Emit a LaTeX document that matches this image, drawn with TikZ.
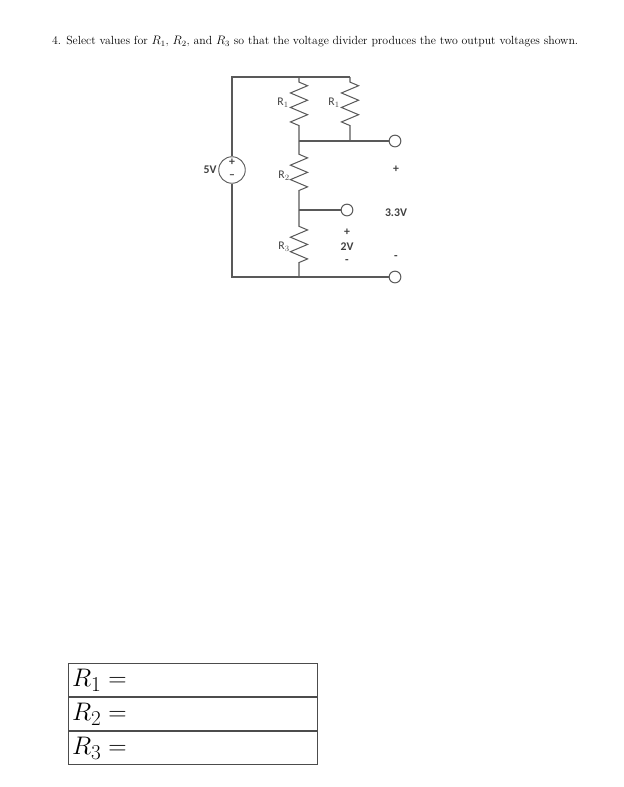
\documentclass[tikz,border=0pt]{standalone}
\usepackage{fontspec}
\newfontfamily\circfont{Carlito}
\usetikzlibrary{decorations.pathmorphing}
\usetikzlibrary{calc}
\DeclareMathSizes{27}{27}{20}{15}

\begin{document}
\begin{tikzpicture}[x=0.98pt,y=-0.98pt,
            wire/.style = {draw=black!65,line width=1pt},
            res/.style = {wire,decorate,decoration={zigzag,segment length=14.2pt,
                amplitude=8.4pt,pre length=5pt,post length=15pt}},
            term/.style = {draw=black!65,line width=1pt,circle,fill=white,
                minimum size=11.5pt,inner sep=0pt},
            lab/.style = {font=\circfont\fontsize{11.5}{13}\selectfont\bfseries,text=black!75,inner sep=0pt},
            rlab/.style = {font=\circfont\fontsize{11.5}{13}\selectfont,text=black!75,inner sep=0pt},
            ansbox/.style = {draw=black!70,line width=0.9pt,minimum width=244pt,minimum height=32pt,
                text width=236pt,inner sep=3pt,font=\fontsize{27}{30}\selectfont}]
            \useasboundingbox (0,0) rectangle (624,787);
            \node[anchor=west,inner sep=0pt,font=\fontsize{11.55}{13}\selectfont] (question) at (52,42)
                {4. Select values for $R_1$, $R_2$, and $R_3$ so that the voltage divider produces the two output voltages shown.};
            \coordinate (tl) at (232,77);
            \coordinate (ta) at (299,77);
            \coordinate (tb) at (350,77);
            \coordinate (ja) at (299,141);
            \coordinate (jb) at (350,141);
            \coordinate (mid) at (299,210);
            \coordinate (bl) at (232,277);
            \coordinate (ba) at (299,277);
            \node[term,minimum size=26pt,line width=0.9pt] (src) at (232,170) {};
            \node[term] (out1) at (395,141) {};
            \node[term] (out2) at (347,210) {};
            \node[term] (out3) at (395,277) {};
            \draw[wire] (src) -- (tl) -- (tb);
            \draw[wire] (src) -- (bl) -- (out3);
            \draw[wire] (ja) -- (out1);
            \draw[wire] (mid) -- (out2);
            \draw[res] (ta) -- (ja);
            \draw[res] (tb) -- (jb);
            \draw[res,decoration={pre length=13pt,post length=14.5pt}] (ja) -- (mid);
            \draw[res,decoration={pre length=16pt,post length=9.5pt}] (mid) -- (ba);
            \node[rlab] (r1a) at (283,103) {R$_{1}$};
            \node[rlab] (r1b) at (334,103) {R$_{1}$};
            \node[rlab] (r2) at (284,176) {R$_{2}$};
            \node[rlab] (r3) at (284,247) {R$_{3}$};
            \node[lab] (vs) at (210,170) {5V};
            \node[lab] (splus) at (232,162) {+};
            \node[lab] (sminus) at (232,177) {–};
            \node[lab] (p33) at (396,169) {+};
            \node[lab] (v33) at (396,213) {3.3V};
            \node[lab] (m33) at (396,258) {-};
            \node[lab] (p2) at (347,232) {+};
            \node[lab] (v2) at (347,247) {2V};
            \node[lab] (m2) at (347,262) {-};
            \node[ansbox] (b1) at (192.5,680) {$R_1 =$};
            \node[ansbox] (b2) at (192.5,714) {$R_2 =$};
            \node[ansbox] (b3) at (192.5,748) {$R_3 =$};
\end{tikzpicture}
\end{document}
